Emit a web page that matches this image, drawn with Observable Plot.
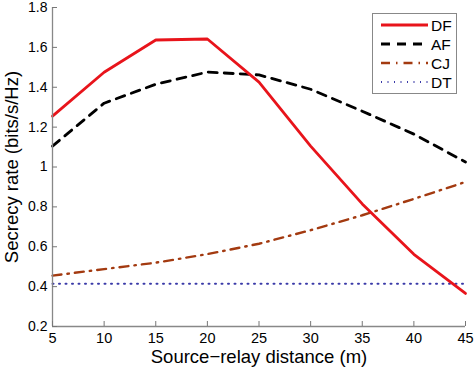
<!DOCTYPE html>
<html>
<head>
<meta charset="utf-8">
<script src="https://cdn.jsdelivr.net/npm/d3@7"></script>
<script src="https://cdn.jsdelivr.net/npm/@observablehq/plot@0.6"></script>
<style>
  html, body { margin: 0; padding: 0; background: #fff; }
  #wrap { position: relative; width: 474px; height: 369px; font-family: "Liberation Sans", Arial, sans-serif; }
  #legend { position: absolute; left: 372px; top: 13px; width: 85px; height: 81px; box-sizing: border-box; border: 1px solid #888; background: #fff; }
</style>
</head>
<body>
<div id="wrap"><div id="chart"></div><div id="legend"></div></div>
<script>
const distance = [5, 10, 15, 20, 25, 30, 35, 40, 45];
const dfValues = [1.255, 1.475, 1.637, 1.642, 1.426, 1.105, 0.815, 0.562, 0.366];
const afValues = [1.105, 1.32, 1.415, 1.476, 1.462, 1.39, 1.28, 1.165, 1.025];
const cjValues = [0.455, 0.488, 0.52, 0.563, 0.615, 0.683, 0.758, 0.84, 0.925];
const dtValues = [0.414, 0.414, 0.414, 0.414, 0.414, 0.414, 0.414, 0.414, 0.414];
const seriesNames = ["DF", "AF", "CJ", "DT"];
const xTicks = [5, 10, 15, 20, 25, 30, 35, 40, 45];
const yTicks = [0.2, 0.4, 0.6, 0.8, 1, 1.2, 1.4, 1.6, 1.8];

const styles = {
  DF: {stroke: "#e8141b", strokeWidth: 2.8, dash: null},
  AF: {stroke: "#000000", strokeWidth: 2.8, dash: "9,7"},
  CJ: {stroke: "#a33a10", strokeWidth: 2.4, dash: "9,6,1.5,6"},
  DT: {stroke: "#3a3aa8", strokeWidth: 2, dash: "1,5.5"}
};
const valuesBySeries = {DF: dfValues, AF: afValues, CJ: cjValues, DT: dtValues};
const rows = seriesNames.flatMap(s => distance.map((d, i) => ({series: s, x: d, y: valuesBySeries[s][i]})));

const lineMarks = ["DT", "CJ", "AF", "DF"].map(s => Plot.line(rows.filter(r => r.series === s), {
  x: "x", y: "y", stroke: styles[s].stroke, strokeWidth: styles[s].strokeWidth,
  strokeDasharray: styles[s].dash, strokeLinejoin: "round"
}));

const chart = Plot.plot({
  width: 474,
  height: 369,
  marginLeft: 52,
  marginRight: 9,
  marginTop: 7,
  marginBottom: 43,
  style: {fontFamily: "Liberation Sans, Arial, sans-serif", fontSize: "14px", color: "#000", background: "#fff"},
  x: {domain: [5, 45]},
  y: {domain: [0.2, 1.8]},
  marks: [
    ...lineMarks,
    Plot.ruleX([5], {stroke: "#888", strokeWidth: 1.3}),
    Plot.ruleY([0.2], {stroke: "#888", strokeWidth: 1.3}),
    Plot.axisX(xTicks, {tickSize: -5, tickPadding: 11, stroke: "#777", fontSize: 14.5, label: null}),
    Plot.axisY(yTicks, {tickSize: -5, tickPadding: 10, stroke: "#777", fontSize: 14, tickFormat: d => String(d), label: null}),
    Plot.text(["Source\u2212relay distance (m)"], {frameAnchor: "bottom", lineAnchor: "middle", textAnchor: "middle", dy: 31, fontSize: 18.5, fill: "#000"}),
    Plot.text(["Secrecy rate (bits/s/Hz)"], {frameAnchor: "left", textAnchor: "middle", lineAnchor: "middle", dx: -40, rotate: -90, fontSize: 18.5, fill: "#000"})
  ]
});
document.getElementById("chart").appendChild(chart);

// legend
const legend = d3.select("#legend").append("svg").attr("width", 83).attr("height", 79)
  .style("font-family", "Liberation Sans, Arial, sans-serif");
seriesNames.forEach((s, i) => {
  const y = 11 + i * 19;
  legend.append("line").attr("x1", 8).attr("x2", 55).attr("y1", y).attr("y2", y)
    .attr("stroke", styles[s].stroke).attr("stroke-width", styles[s].strokeWidth)
    .attr("stroke-dasharray", styles[s].dash);
  legend.append("text").attr("x", 58).attr("y", y).attr("dy", "0.36em")
    .attr("font-size", 15.5).text(s);
});
</script>
</body>
</html>
